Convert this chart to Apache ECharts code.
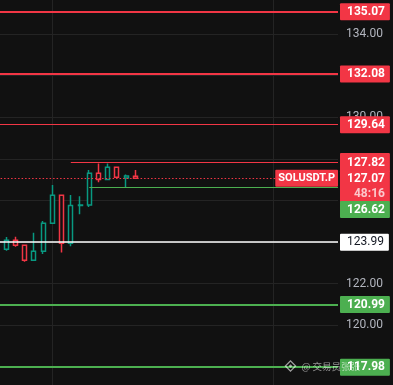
<!DOCTYPE html>
<html>
<head>
<meta charset="utf-8">
<script src="https://cdn.jsdelivr.net/npm/echarts@6/dist/echarts.min.js"></script>
<style>
html,body{margin:0;padding:0;background:#111111;}
#chart{width:393px;height:385px;}
</style>
</head>
<body>
<div id="chart"></div>
<script>
// ---- data ----
const categories = ['s0','s1','s2','s3','s4','s5','s6','s7','s8','s9','s10','s11','s12','s13','s14','s15','s16','s17','s18','s19',
  's20','s21','s22','s23','s24','s25','s26','s27','s28','s29','s30','s31','s32','s33','s34','s35','s36','s37'];
const opens  = [123.65, 124.08, 123.84, 123.12, 123.55, 124.90, 126.25, 123.94, 125.76, 125.78, 127.30, 127.01, 127.59, 127.08, 127.16];
const closes = [124.08, 123.84, 123.12, 123.55, 124.90, 126.25, 123.94, 125.76, 125.78, 127.30, 127.01, 127.59, 127.11, 127.17, 127.07];
const lows   = [123.58, 123.77, 123.05, 123.12, 123.42, 124.90, 123.50, 123.79, 125.33, 125.68, 126.87, 126.97, 127.11, 126.62, 127.07];
const highs  = [124.24, 124.25, 123.84, 124.45, 125.01, 126.74, 126.25, 126.26, 126.20, 127.46, 127.77, 127.78, 127.59, 127.25, 127.46];
const resistanceLevels = [135.07, 132.08, 129.64];
const supportLevels = [120.99, 117.98];
const pivotLevel = 123.99;
const rangeHigh = 127.82;
const rangeLow = 126.62;
const lastPrice = 127.07;
const countdown = '48:16';
const symbolName = 'SOLUSDT.P';
const watermark = '@ 交易员张张';
const yTicks = { min: 116, max: 136, step: 2 };

// ---- build ----
const RED = '#F23645', GREEN = '#4CAF50', TEAL = '#089981';
const firstSlot = 1;
const lastIdx = categories.length - 1;
const kline = categories.map((c, i) => {
  const k = i - firstSlot;
  return (k >= 0 && k < opens.length) ? [opens[k], closes[k], lows[k], highs[k]] : '-';
});
const rangeHighStart = firstSlot + 7;
const rangeLowStart = firstSlot + 9;

const font = 'Roboto, "Noto Sans", sans-serif';
function tag(v, text, bg, fg, extra) {
  return Object.assign({
    coord: [lastIdx, v],
    value: v,
    label: Object.assign({
      show: true, position: 'right', distance: 2,
      formatter: text, color: fg, backgroundColor: bg,
      fontFamily: font, fontSize: 12, fontWeight: 'bold',
      lineHeight: 15, padding: [1, 5, 1, 7], borderRadius: 1
    }, extra || {})
  });
}

const markLineData = [];
resistanceLevels.forEach((v, i) => markLineData.push({ yAxis: v, lineStyle: { color: RED, width: i < 2 ? 2 : 1, type: 'solid' } }));
supportLevels.forEach(v => markLineData.push({ yAxis: v, lineStyle: { color: GREEN, width: 2, type: 'solid' } }));
markLineData.push({ yAxis: pivotLevel, lineStyle: { color: '#FFFFFF', width: 1.5, type: 'solid' } });
markLineData.push({ yAxis: lastPrice, lineStyle: { color: RED, width: 1.2, type: [1.5, 2] } });
markLineData.push([{ coord: [rangeHighStart, rangeHigh], lineStyle: { color: RED, width: 1, type: 'solid' } }, { coord: [lastIdx, rangeHigh] }]);
markLineData.push([{ coord: [rangeLowStart, rangeLow], lineStyle: { color: GREEN, width: 1, type: 'solid' } }, { coord: [lastIdx, rangeLow] }]);

const markPointData = [];
resistanceLevels.forEach(v => markPointData.push(tag(v, v.toFixed(2), RED, '#FFFFFF')));
supportLevels.forEach(v => markPointData.push(tag(v, v.toFixed(2), GREEN, '#FFFFFF')));
markPointData.push(tag(pivotLevel, pivotLevel.toFixed(2), '#FFFFFF', '#131722', { fontWeight: 'normal' }));
markPointData.push(tag(rangeHigh, rangeHigh.toFixed(2), RED, '#FFFFFF', { padding: [2, 5, 2, 7] }));
markPointData.push(tag(lastPrice, '{a|' + lastPrice.toFixed(2) + '}\n{b|' + countdown + '}', RED, '#FFFFFF', {
  offset: [0, 8],
  rich: {
    a: { fontFamily: font, fontSize: 12, fontWeight: 'bold', color: '#FFFFFF', lineHeight: 15 },
    b: { fontFamily: font, fontSize: 12, fontWeight: 'bold', color: 'rgba(255,255,255,0.72)', lineHeight: 15, align: 'right' }
  }
}));
markPointData.push(tag(rangeLow, rangeLow.toFixed(2), GREEN, '#FFFFFF', { offset: [0, 22] }));
markPointData.push(tag(lastPrice, symbolName, RED, '#FFFFFF', { position: 'left', distance: 0, fontSize: 11, lineHeight: 13, padding: [2, 3, 2, 3] }));

const chart = echarts.init(document.getElementById('chart'), null, { renderer: 'canvas' });
chart.setOption({
  backgroundColor: '#111111',
  animation: false,
  grid: { left: -2.9, right: 55, top: -7.6, bottom: -23.4, containLabel: false, outerBoundsMode: 'none' },
  xAxis: {
    type: 'category', data: categories, boundaryGap: false,
    axisLine: { show: false }, axisTick: { show: false }, axisLabel: { show: false },
    splitLine: { show: true, interval: (idx) => idx === 6 || idx === 30, lineStyle: { color: '#242424', width: 1 } }
  },
  yAxis: {
    type: 'value', position: 'right', min: yTicks.min, max: yTicks.max, interval: yTicks.step, scale: true,
    axisLine: { show: false }, axisTick: { show: false },
    axisLabel: { color: '#B2B5BE', fontFamily: font, fontSize: 12, margin: 8, formatter: v => v.toFixed(2) },
    splitLine: { show: true, lineStyle: { color: '#242424', width: 1 } }
  },
  series: [{
    type: 'candlestick',
    data: kline,
    barWidth: 4.5,
    itemStyle: { color: '#111111', color0: '#111111', borderColor: TEAL, borderColor0: RED, borderWidth: 1.5 },
    markLine: { silent: true, symbol: ['none', 'none'], label: { show: false }, data: markLineData, animation: false },
    markPoint: { silent: true, symbol: 'circle', symbolSize: 0, data: markPointData, animation: false }
  }],
  graphic: [{
    type: 'group', zlevel: 1, z: 100, silent: true,
    children: [
      { type: 'rect', z: 100, zlevel: 1, x: 290.5, y: 366, rotation: Math.PI / 4, shape: { x: -3.6, y: -3.6, width: 7.2, height: 7.2 }, style: { fill: 'none', stroke: 'rgba(255,255,255,0.6)', lineWidth: 1.3 } },
      { type: 'rect', z: 100, zlevel: 1, x: 290.5, y: 366, rotation: Math.PI / 4, shape: { x: -1.3, y: -1.3, width: 2.6, height: 2.6 }, style: { fill: 'rgba(255,255,255,0.6)' } },
      { type: 'text', z: 100, zlevel: 1, x: 301.5, y: 366.5, style: { text: watermark, fill: 'rgba(255,255,255,0.55)', font: '9.5px "Noto Sans CJK SC", sans-serif', verticalAlign: 'middle', align: 'left' } }
    ]
  }]
});
</script>
</body>
</html>
